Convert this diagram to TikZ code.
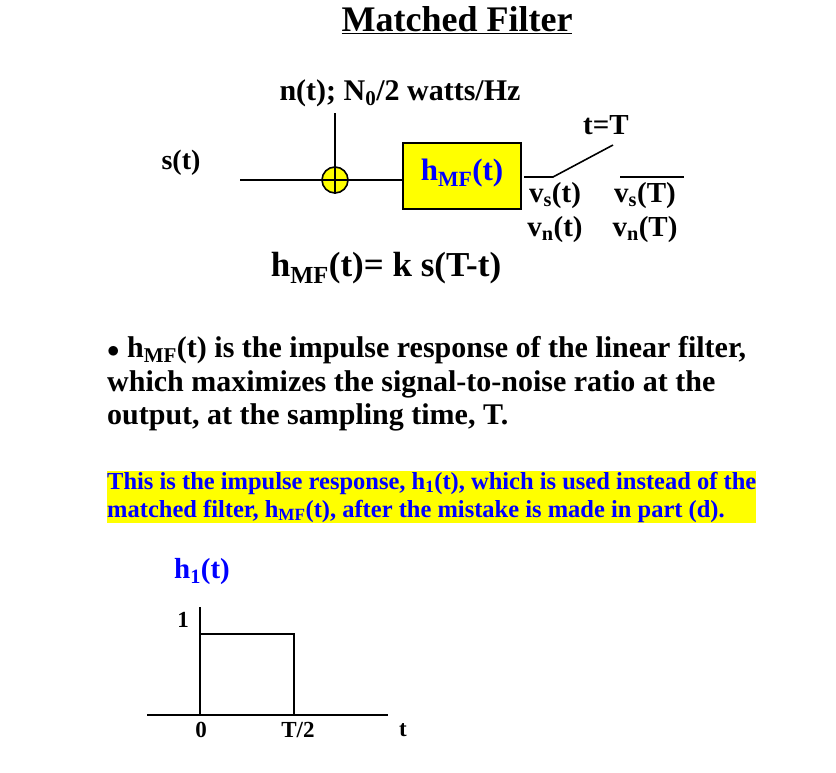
\documentclass[tikz,border=0pt]{standalone}
\usepackage{fontspec}
\setmainfont{Liberation Serif}
\usepackage{xcolor}
\definecolor{hlyellow}{RGB}{255,255,0}
\definecolor{tblue}{RGB}{0,0,255}
\newcommand{\fs}[1]{\fontsize{#1}{#1}\selectfont\bfseries}
\newcommand{\sbs}[1]{\textsubscript{#1}}
\tikzset{
  wire/.style={line width=1.6pt},
  txt/.style={inner sep=0pt},
}
\begin{document}
\begin{tikzpicture}[x=1pt,y=-1pt]
\useasboundingbox (0,0) rectangle (836,772);
\node[txt] (title) at (457,20) {\fs{36}\underline{Matched Filter}};
\node[txt] (noise) at (400,93) {\fs{30}n(t); N\sbs{0}/2 watts/Hz};
\node[txt] (s) at (181,163) {\fs{28}s(t)};
\node[circle,draw,wire,fill=hlyellow,minimum size=26pt,inner sep=0pt] (sum) at (335,180) {};
\draw[wire] (sum.north) -- (sum.south) (sum.west) -- (sum.east);
\coordinate (ntop) at (335,113);
\coordinate (in) at (240,180);
\draw[wire] (ntop) -- (sum.north);
\draw[wire] (in) -- (sum.west);
\node[draw,wire,fill=hlyellow,minimum width=118pt,minimum height=66pt,inner sep=0pt] (h) at (462,176) {};
\node[txt,text=tblue] (hl) at (462,173) {\fs{31}h\sbs{MF}(t)};
\draw[wire] (sum.east) -- (sum.east -| h.west);
\coordinate (o1) at (524,177);
\coordinate (sw) at (553,177);
\coordinate (swend) at (613,145);
\draw[wire] (o1) -- (sw) -- (swend);
\coordinate (o2) at (620,177);
\coordinate (o3) at (684,177);
\draw[wire] (o2) -- (o3);
\node[txt] (tT) at (606,125) {\fs{29}t=T};
\node[txt] (vst) at (555,196) {\fs{29}v\sbs{s}(t)};
\node[txt] (vsT) at (645,196) {\fs{29}v\sbs{s}(T)};
\node[txt] (vnt) at (555,230) {\fs{29}v\sbs{n}(t)};
\node[txt] (vnT) at (645,230) {\fs{29}v\sbs{n}(T)};
\node[txt] (eq) at (386,268) {\fs{35}h\sbs{MF}(t)= k s(T-t)};
\node[txt,anchor=west,align=left,font={\fontsize{30}{33.5}\selectfont\bfseries}] (para) at (107,384) {%
$\bullet$ h\sbs{MF}(t) is the impulse response of the linear filter,\\
which maximizes the signal-to-noise ratio at the\\
output, at the sampling time, T.};
\node[txt,anchor=west,align=left,fill=hlyellow,text=tblue,inner ysep=1pt,font={\fontsize{24.5}{28}\selectfont\bfseries}] (note) at (107,497) {%
This is the impulse response, h\sbs{1}(t), which is used instead of the\\
matched filter, h\sbs{MF}(t), after the mistake is made in part (d).};
\node[txt,text=tblue] (h1) at (202,572) {\fs{29}h\sbs{1}(t)};
\coordinate (ax0) at (147,715);
\coordinate (ax1) at (388,715);
\coordinate (ay0) at (200,715);
\coordinate (ay1) at (200,607);
\coordinate (p1) at (200,634);
\coordinate (p2) at (294,634);
\coordinate (p3) at (294,715);
\draw[wire] (ax0) -- (ax1);
\draw[wire] (ay0) -- (ay1);
\draw[wire] (p1) -- (p2) -- (p3);
\node[txt] (l1) at (183,620) {\fs{23}1};
\node[txt] (l0) at (201,730) {\fs{23}0};
\node[txt] (lT) at (298,730) {\fs{23}T/2};
\node[txt] (lt) at (403,730) {\fs{23}t};
\end{tikzpicture}
\end{document}
